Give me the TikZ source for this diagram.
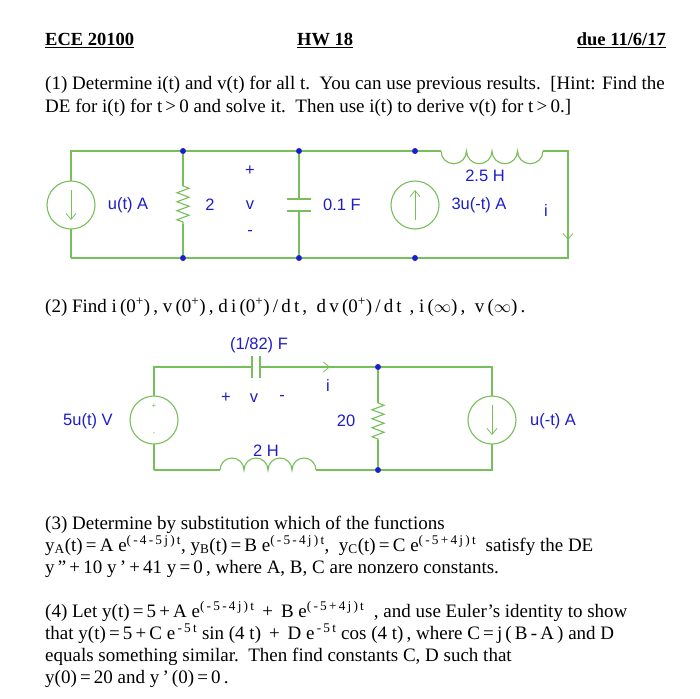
\documentclass[tikz,border=0pt]{standalone}
\usepackage{fontspec}
\setmainfont{Liberation Serif}
\setsansfont{Liberation Sans}
\usetikzlibrary{arrows.meta,decorations.pathmorphing}
\definecolor{wg}{RGB}{120,190,90}
\definecolor{lb}{RGB}{30,30,200}
\begin{document}
\begin{tikzpicture}[x=1pt,y=-1pt,
  txt/.style={anchor=base west,inner sep=0,font=\fontsize{19}{22}\selectfont},
  hd/.style={anchor=base west,inner sep=0,font=\bfseries\fontsize{18.5}{22}\selectfont},
  lab/.style={text=lb,inner sep=0,font=\sffamily\fontsize{16.5}{19}\selectfont},
  wire/.style={wg,line width=1.1pt},
  dot/.style={circle,fill=lb,inner sep=0,minimum size=6pt},
  src/.style={circle,draw=wg,line width=1.1pt,minimum size=48pt,inner sep=0,fill=white},
  res/.style={wg,line width=1.1pt,decorate,decoration={zigzag,segment length=9pt,amplitude=6pt}},
  ind/.style={wg,line width=1.1pt}]
\fill[white] (0,0) rectangle (700,698);
% header
\node[hd] (h1) at (45,46) {\underline{ECE 20100}};
\node[hd] (h2) at (297,46) {\underline{HW 18}};
\node[hd,anchor=base east] (h3) at (666,46) {\underline{due 11/6/17}};
\node[txt] (t1) at (45,90) {(1) Determine i(t) and v(t) for all t.\ \ You can use previous results.\ \ [Hint: Find the};
\node[txt] (t2) at (45,112) {DE for i(t) for t\,{\textgreater}\,0 and solve it.\ \ Then use i(t) to derive v(t) for t\,{\textgreater}\,0.]};
% circuit 1
\coordinate (a1) at (71,151); \coordinate (a2) at (71,258);
\node[dot] (n1) at (183,151) {}; \node[dot] (m1) at (183,258) {};
\node[dot] (n2) at (299,151) {}; \node[dot] (m2) at (299,258) {};
\node[dot] (n3) at (415,151) {}; \node[dot] (m3) at (415,258) {};
\coordinate (r1) at (568,151); \coordinate (r2) at (568,258);
\draw[wire] (a2) -- (a1) -- (n1) -- (n2) -- (n3) -- (441,151);
\draw[wire] (543,151) -- (r1) -- (r2) -- (m3) -- (m2) -- (m1) -- (a2);
\node[src] (s1) at (71,205) {};
\draw[wg,line width=0.8pt,-{Straight Barb[length=6pt,width=10pt]}] (71,190) -- (71,220);
\draw[wire] (n1) -- (183,186);
\draw[res] (183,186) -- (183,224);
\draw[wire] (183,224) -- (m1);
\draw[wire] (n2) -- (299,199) (299,211) -- (m2);
\draw[wire] (287,199) -- (311,199) (287,211) -- (311,211);
\node[src] (s2) at (415,205) {};
\draw[wg,line width=0.8pt,-{Straight Barb[length=6pt,width=10pt]}] (415,220) -- (415,190);
\draw[ind] (441,151) arc[start angle=180,end angle=0,radius=12.75] arc[start angle=180,end angle=0,radius=12.75] arc[start angle=180,end angle=0,radius=12.75] arc[start angle=180,end angle=0,radius=12.75];
\draw[wg,line width=0.8pt,-{Straight Barb[length=6pt,width=10pt]}] (568,225) -- (568,240);
\node[lab] (l1) at (128,205) {u(t) A};
\node[lab] (l2) at (210,205) {2};
\node[lab] (l3) at (250,171) {+};
\node[lab] (l4) at (250,205) {v};
\node[lab] (l5) at (250,233) {-};
\node[lab] (l6) at (342,205) {0.1 F};
\node[lab] (l7) at (479,205) {3u(-t) A};
\node[lab] (l8) at (485,176) {2.5 H};
\node[lab] (l9) at (546,211) {i};
% (2)
\node[txt] (t3) at (45,312) {(2) Find i\,(0\textsuperscript{+})\,, v\,(0\textsuperscript{+})\,, d\,i\,(0\textsuperscript{+})\,/\,d\,t\,, \ d\,v\,(0\textsuperscript{+})\,/\,d\,t\ \,, i\,($\infty$)\,, \ v\,($\infty$)\,.};
% circuit 2
\coordinate (b1) at (154,367); \coordinate (b2) at (154,470);
\node[dot] (p1) at (378,367) {}; \node[dot] (q1) at (378,470) {};
\coordinate (c1) at (492,367); \coordinate (c2) at (492,470);
\draw[wire] (b2) -- (b1) -- (252,367) (260,367) -- (p1) -- (c1) -- (c2) -- (q1) -- (316,470) (220,470) -- (b2);
\draw[wire] (252,356) -- (252,378) (260,356) -- (260,378);
\draw[wg,line width=0.8pt,-{Straight Barb[length=6pt,width=10pt]}] (310,367) -- (330,367);
\node[src] (s3) at (154,420) {};
\node[text=wg,font=\sffamily\footnotesize] (pp) at (154,406) {+};
\node[text=wg,font=\sffamily\footnotesize] (pm) at (154,434) {-};
\draw[wire] (p1) -- (378,403);
\draw[res] (378,403) -- (378,440);
\draw[wire] (378,440) -- (q1);
\node[src] (s4) at (492,420) {};
\draw[wg,line width=0.8pt,-{Straight Barb[length=6pt,width=10pt]}] (492,405) -- (492,435);
\draw[ind] (316,470) arc[start angle=0,end angle=-180,radius=12] arc[start angle=0,end angle=-180,radius=12] arc[start angle=0,end angle=-180,radius=12] arc[start angle=0,end angle=-180,radius=12];
\node[lab] (k1) at (259,345) {(1/82) F};
\node[lab] (k2) at (226,398) {+};
\node[lab] (k3) at (254,398) {v};
\node[lab] (k4) at (282,398) {-};
\node[lab] (k5) at (328,386) {i};
\node[lab] (k6) at (88,421) {5u(t) V};
\node[lab] (k7) at (346,421) {20};
\node[lab] (k8) at (553,421) {u(-t) A};
\node[lab] (k9) at (266,451) {2 H};
% (3)
\node[txt] (t4) at (45,529) {(3) Determine by substitution which of the functions};
\node[txt] (t5) at (45,551) {y\textsubscript{A}(t)\,=\,A e\textsuperscript{(\,-\,4\,-\,5\,j\,)\,t}, y\textsubscript{B}(t)\,=\,B e\textsuperscript{(\,-\,5\,-\,4\,j\,)\,t}, \ y\textsubscript{C}(t)\,=\,C e\textsuperscript{(\,-\,5\,+\,4\,j\,)\,t} \ satisfy the DE};
\node[txt] (t6) at (45,573) {y\,"\,+\,10 y\,'\,+\,41 y\,=\,0\,, where A, B, C are nonzero constants.};
% (4)
\node[txt] (t7) at (45,617) {(4) Let y(t)\,=\,5\,+\,A e\textsuperscript{(\,-\,5\,-\,4\,j\,)\,t} \,+\, B e\textsuperscript{(\,-\,5\,+\,4\,j\,)\,t} \ , and use Euler's identity to show};
\node[txt] (t8) at (45,639) {that y(t)\,=\,5\,+\,C e\textsuperscript{\,-\,5\,t} sin (4 t) \,+\, D e\textsuperscript{\,-\,5\,t} cos (4 t)\,, where C\,=\,j\,(\,B\,-\,A\,) and D};
\node[txt] (t9) at (45,661) {equals something similar.\ \ Then find constants C, D such that};
\node[txt] (t10) at (45,683) {y(0)\,=\,20 and y\,'\,(0)\,=\,0\,.};
\end{tikzpicture}
\end{document}
